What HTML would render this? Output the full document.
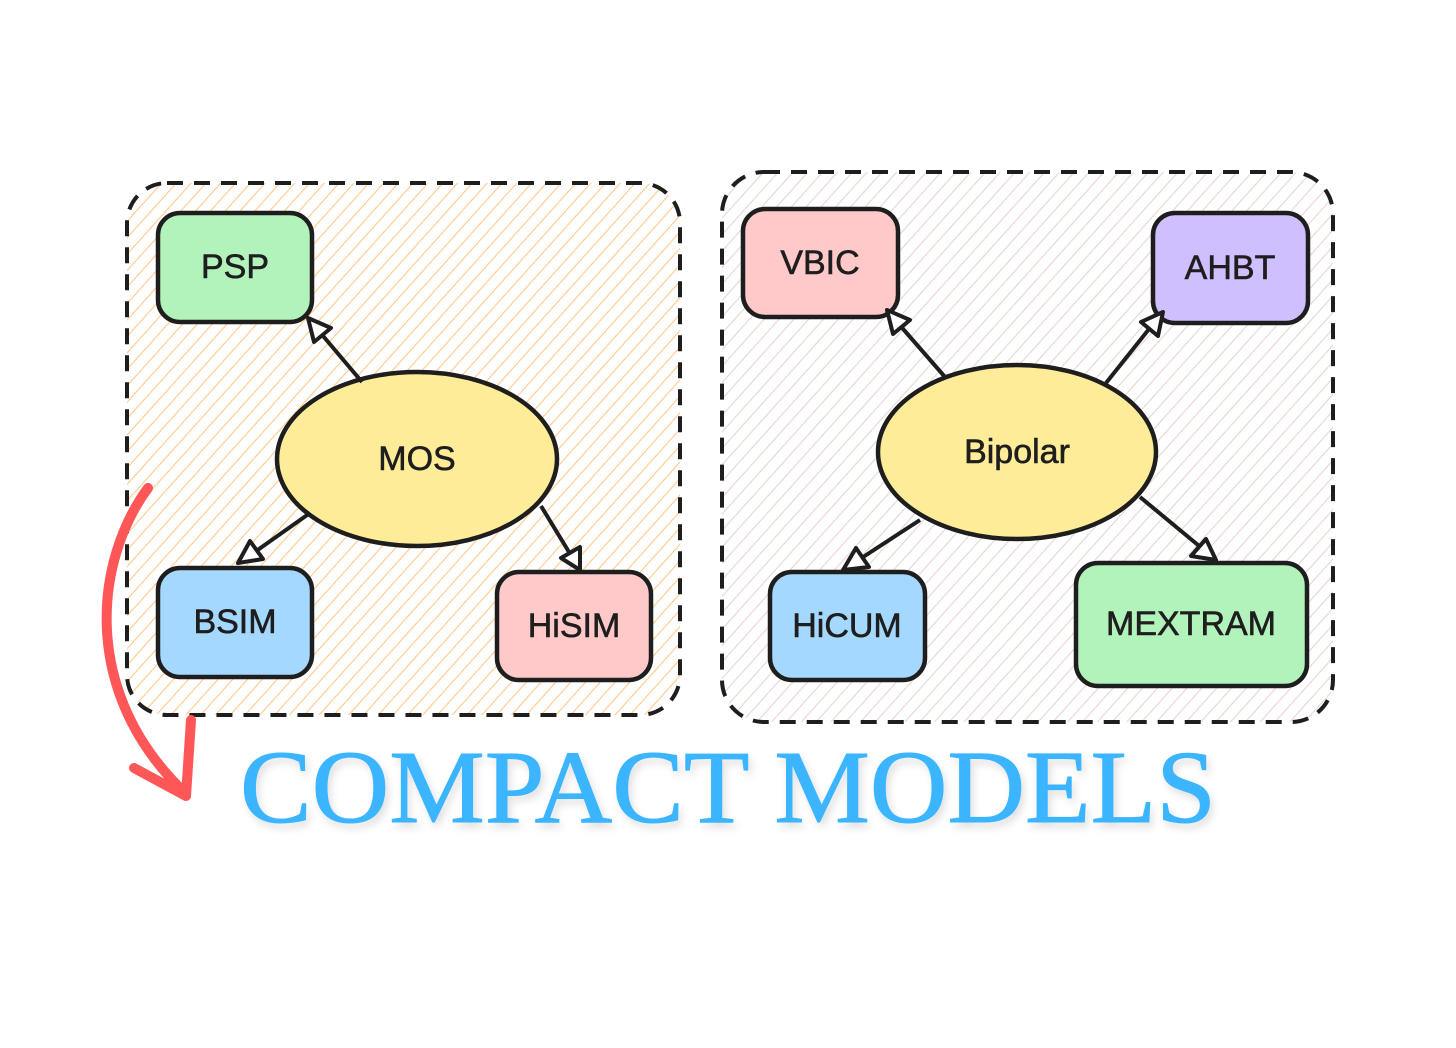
<!DOCTYPE html>
<html><head><meta charset="utf-8"><style>
html,body{margin:0;padding:0;background:#fff;}
svg{display:block;}
.lbl{font-family:"Liberation Sans",sans-serif;font-size:34px;fill:#1e1e1e;text-anchor:middle;dominant-baseline:central;stroke:#1e1e1e;stroke-width:0.6;}
</style></head><body>
<svg width="1456" height="1048" viewBox="0 0 1456 1048" xmlns="http://www.w3.org/2000/svg">
<defs>
<pattern id="hL" width="11" height="11" patternUnits="userSpaceOnUse" patternTransform="rotate(42)">
<line x1="0" y1="0" x2="0" y2="11" stroke="#ffc98b" stroke-width="2.2"/></pattern>
<pattern id="hR" width="11" height="11" patternUnits="userSpaceOnUse" patternTransform="rotate(42)">
<line x1="0" y1="0" x2="0" y2="11" stroke="#e6d6d0" stroke-width="2.2"/></pattern>
<filter id="sh" x="-5%" y="-20%" width="110%" height="150%"><feDropShadow dx="3" dy="5" stdDeviation="4" flood-color="#000" flood-opacity="0.12"/></filter>
</defs>
<rect width="1456" height="1048" fill="#fff"/>
<rect x="127" y="183" width="553" height="532" rx="40" fill="url(#hL)" stroke="#1e1e1e" stroke-width="4" stroke-dasharray="16 11"/>
<rect x="722" y="172" width="611" height="550" rx="42" fill="url(#hR)" stroke="#1e1e1e" stroke-width="4" stroke-dasharray="16 11"/>
<g stroke="#1e1e1e" stroke-width="4.5">
<rect x="158" y="213" width="154" height="109" rx="22" fill="#b2f2bb"/>
<rect x="158" y="568" width="154" height="109" rx="22" fill="#a5d8ff"/>
<rect x="497" y="572" width="154" height="108" rx="22" fill="#ffc9c9"/>
<ellipse cx="417" cy="459" rx="140" ry="87" fill="#ffec99"/>
<rect x="743" y="209" width="155" height="108" rx="22" fill="#ffc9c9"/>
<rect x="1153" y="213" width="155" height="110" rx="22" fill="#d0bfff"/>
<rect x="770" y="572" width="155" height="108" rx="22" fill="#a5d8ff"/>
<rect x="1076" y="563" width="231" height="123" rx="22" fill="#b2f2bb"/>
<ellipse cx="1017" cy="452" rx="139" ry="87" fill="#ffec99"/>
</g>
<g stroke="#1e1e1e" stroke-width="4" fill="#fff" stroke-linejoin="round">
<line x1="362" y1="382" x2="318" y2="330"/><polygon points="308,318 331,328 314,342"/>
<line x1="310" y1="513" x2="252" y2="554"/><polygon points="238,563 250,541 263,559"/>
<line x1="541" y1="506" x2="572" y2="557"/><polygon points="580,570 561,558 580,547"/>
<line x1="945" y1="377" x2="897" y2="322"/><polygon points="887,310 910,320 893,334"/>
<line x1="1106" y1="383" x2="1153" y2="324"/><polygon points="1163,312 1158,336 1141,322"/>
<line x1="920" y1="520" x2="857" y2="561"/><polygon points="843,570 856,548 869,567"/>
<line x1="1140" y1="497" x2="1204" y2="550"/><polygon points="1216,560 1191,556 1206,539"/>
</g>
<text class="lbl" x="235" y="267">PSP</text>
<text class="lbl" x="235" y="622">BSIM</text>
<text class="lbl" x="574" y="626">HiSIM</text>
<text class="lbl" x="417" y="459">MOS</text>
<text class="lbl" x="820" y="263">VBIC</text>
<text class="lbl" x="1230" y="268">AHBT</text>
<text class="lbl" x="847" y="626">HiCUM</text>
<text class="lbl" x="1191" y="624">MEXTRAM</text>
<text class="lbl" x="1017" y="452">Bipolar</text>
<g stroke="#ff5757" fill="none" stroke-linecap="round" stroke-linejoin="round">
<path d="M148,488 C95,560 80,690 182,790" stroke-width="10"/>
<path d="M134,768 L186,796 L191,720" stroke-width="10"/>
</g>
<text x="240" y="822" textLength="976" lengthAdjust="spacingAndGlyphs" filter="url(#sh)" style="font-family:'Liberation Serif',serif;font-size:104px;fill:#3bb5ff;stroke:#3bb5ff;stroke-width:1;">COMPACT MODELS</text>
</svg>
</body></html>
